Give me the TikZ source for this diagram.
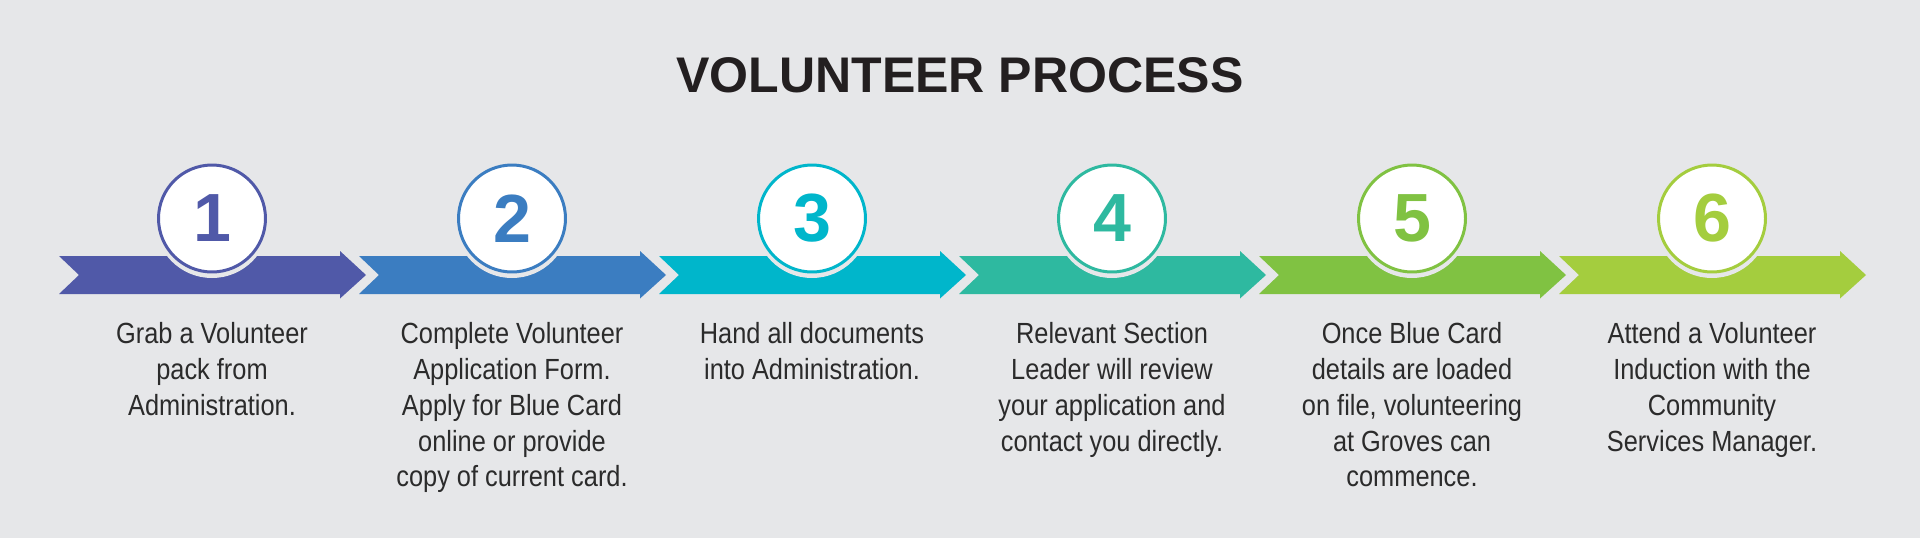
\documentclass[tikz,border=0pt]{standalone}
\usepackage{fontspec}
\setmainfont{Liberation Sans}
\newfontfamily\bodyfont[FakeStretch=0.87]{Liberation Sans}

\definecolor{pagebg}{HTML}{E6E7E9}
\definecolor{titlecol}{HTML}{231F20}
\definecolor{bodytext}{HTML}{2B2B2B}
\definecolor{vp1}{HTML}{5059A8}
\definecolor{vp2}{HTML}{3B7DC1}
\definecolor{vp3}{HTML}{00B6CB}
\definecolor{vp4}{HTML}{2EB9A0}
\definecolor{vp5}{HTML}{80C242}
\definecolor{vp6}{HTML}{A4CD3E}

\tikzset{
  titletext/.style={anchor=base, text=titlecol, font=\fontsize{28.5pt}{34pt}\selectfont\bfseries},
  numcircle/.style={circle, fill=white, line width=1.7pt, minimum size=2.14cm, inner sep=0pt,
    font=\fontsize{38.8pt}{40pt}\selectfont\bfseries},
  desctext/.style={align=center, anchor=north, inner sep=0pt, text=bodytext,
    font=\bodyfont\fontsize{16.6pt}{20.4pt}\selectfont},
}

\begin{document}
\begin{tikzpicture}[x=0.02cm, y=-0.02cm]
    % Background
    \fill[pagebg] (0,0) rectangle (1920,538);

    % Title
    \node[titletext] (title) at (960,92) {VOLUNTEER PROCESS};

    % Steps: arrow, number badge, description
    \foreach \i/\txt in {
        1/{Grab a Volunteer\\pack from\\Administration.},
        2/{Complete Volunteer\\Application Form.\\Apply for Blue Card\\online or provide\\copy of current card.},
        3/{Hand all documents\\into Administration.},
        4/{Relevant Section\\Leader will review\\your application and\\contact you directly.},
        5/{Once Blue Card\\details are loaded\\on file, volunteering\\at Groves can\\commence.},
        6/{Attend a Volunteer\\Induction with the\\Community\\Services Manager.}}{
        \fill[vp\i, shift={({300*(\i-1)},0)}] (59,256) -- (340,256) -- (340,251) -- (366,275)
            -- (340,298.5) -- (340,294) -- (59,294) -- (79,275) -- cycle;
        \fill[pagebg] ({212+300*(\i-1)},221) circle[radius=57];
        \node[numcircle, draw=vp\i, text=vp\i] (num\i) at ({212+300*(\i-1)},218.5) {\i};
        \node[desctext] (desc\i) at ({212+300*(\i-1)},322) {\txt};
    }
\end{tikzpicture}
\end{document}
